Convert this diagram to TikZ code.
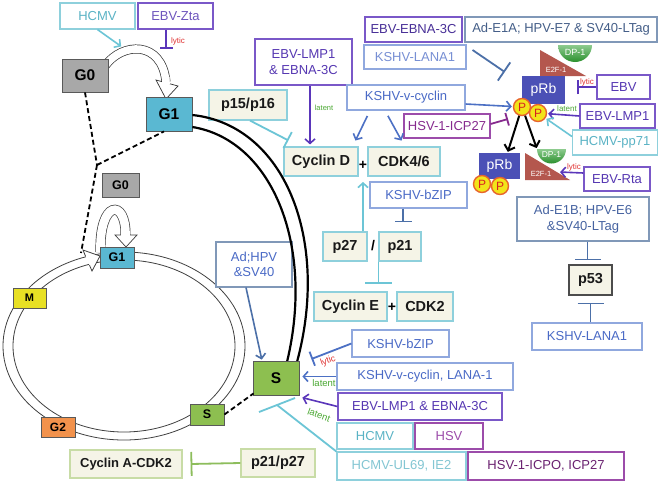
\documentclass[tikz,border=0pt]{standalone}
\usepackage{fontspec}
\setmainfont{Liberation Sans}
\usetikzlibrary{arrows.meta,calc}
\definecolor{cTealB}{HTML}{8ED0DC}
\definecolor{cTealT}{HTML}{5AB3C5}
\definecolor{cTealA}{HTML}{6CC5D6}
\definecolor{cPurB}{HTML}{7A58C8}
\definecolor{cPurT}{HTML}{5537B2}
\definecolor{cPurA}{HTML}{5A36BA}
\definecolor{cBluB}{HTML}{90A8DE}
\definecolor{cBluT}{HTML}{4A6AC6}
\definecolor{cBluA}{HTML}{4C70C4}
\definecolor{cSlaB}{HTML}{8098B8}
\definecolor{cSlaT}{HTML}{445E88}
\definecolor{cSlaA}{HTML}{4C70A8}
\definecolor{cMagB}{HTML}{9C4CAA}
\definecolor{cMagT}{HTML}{862A8E}
\definecolor{cMagA}{HTML}{862A8E}
\definecolor{cGrnB}{HTML}{C8DCA6}
\definecolor{cGrnA}{HTML}{8DBD5C}
\definecolor{cBeige}{HTML}{F5F4E7}
\definecolor{cLat}{HTML}{4AA832}
\definecolor{cLyt}{HTML}{E03434}
\definecolor{cGzero}{HTML}{A8A8A8}
\definecolor{cGone}{HTML}{5AB8D2}
\definecolor{cSph}{HTML}{8DBF50}
\definecolor{cMph}{HTML}{E8E024}
\definecolor{cGtwo}{HTML}{F2924C}
\definecolor{cPRb}{HTML}{4B50B6}
\definecolor{cEF}{HTML}{B4574E}
\definecolor{cDP}{HTML}{2FA032}
\definecolor{cPfill}{HTML}{F2E41A}
\definecolor{cPring}{HTML}{E8642C}
\definecolor{cPtxt}{HTML}{D82020}
\tikzset{
 wh/.style 2 args={minimum width=#1pt, minimum height=#2pt},
 vbox/.style={draw, fill=white, line width=1.1pt, inner sep=0pt, align=center, font=\fontsize{13}{15.5}\selectfont},
 vT/.style={vbox, draw=cTealB, text=cTealT},
 vP/.style={vbox, draw=cPurB, text=cPurT},
 vB/.style={vbox, draw=cBluB, text=cBluT},
 vS/.style={vbox, draw=cSlaB, text=cSlaT},
 vM/.style={vbox, draw=cMagB, text=cMagT},
 mol/.style={draw=cTealB, fill=cBeige, line width=1.1pt, inner sep=0pt, text=black!90, font=\bfseries\fontsize{14.5}{16}\selectfont},
 molG/.style={mol, draw=cGrnB},
 phase/.style={draw=black!65, line width=0.8pt, inner sep=0pt, font=\bfseries\fontsize{#1}{#1}\selectfont},
 prb/.style={fill=cPRb, text=white, inner sep=0pt, font=\fontsize{14}{14}\selectfont},
 pcirc/.style={circle, fill=cPfill, draw=cPring, line width=1.4pt, minimum size=17pt, inner sep=0pt, text=cPtxt, font=\fontsize{12}{12}\selectfont},
 plusn/.style={inner sep=0pt, font=\bfseries\fontsize{14}{14}\selectfont},
 arr/.style={line width=1.6pt, -{Straight Barb[length=4.5pt,width=10pt]}, shorten >=1pt},
 arrT/.style={arr, draw=cTealA},
 arrP/.style={arr, draw=cPurA},
 arrB/.style={arr, draw=cBluA},
 arrS/.style={arr, draw=cSlaA},
 blk/.style={line width=2pt, draw=black, -{Straight Barb[length=5pt,width=11pt]}, shorten >=1pt},
 inh/.style={line width=1.8pt, -{Bar[width=#1pt]}},
 inh/.default=14,
 lat/.style={text=cLat, inner sep=0pt, font=\fontsize{#1}{#1}\selectfont},
 lat/.default=8,
 lyt/.style={text=cLyt, inner sep=0pt, font=\fontsize{#1}{#1}\selectfont},
 lyt/.default=8,
 dsh/.style={line width=1.8pt, dash pattern=on 5pt off 3pt},
 ringl/.style={line width=0.8pt, draw=black!75},
 arcl/.style={line width=2.2pt, draw=black},
}
\begin{document}
\begin{tikzpicture}[x=1pt,y=-1pt]
\fill[white] (0,0) rectangle (660,482);
\useasboundingbox (0,0) rectangle (660,482);

% ---- small cell cycle ring ----
\draw[ringl] (124,346) ellipse [x radius=121pt, y radius=94pt];
\draw[ringl] (124,346) ellipse [x radius=111pt, y radius=86pt];
\fill[white] (83,250) -- (100,256) -- (92,271) -- cycle;
\draw[ringl, line join=miter] (85.6,256.4) -- (83,250) -- (100,256) -- (92,271) -- (89.5,265.2);

% ---- loop arrow on small G1 ----
\draw[line width=10pt, black!75] (100.5,252) .. controls (99,200) and (126,198) .. (125.5,235);
\draw[line width=8.6pt, white] (100.5,252) .. controls (99,200) and (126,198) .. (125.5,235);
\filldraw[fill=white, draw=black!75, line width=0.7pt] (115,235) -- (137,235) -- (126,247) -- cycle;
\draw[line width=8.6pt, white] (125.5,231) -- (125.5,237);

% ---- big hollow arrow G0 -> G1 ----
\draw[line width=9pt, black!80] (105,66) .. controls (122,42) and (162,40) .. (166,82);
\draw[line width=7.6pt, white] (105,66) .. controls (122,42) and (162,40) .. (166,82);
\filldraw[fill=white, draw=black!80, line width=0.7pt] (156,80) -- (178,86) -- (166,99) -- cycle;
\draw[line width=7.6pt, white] (165.7,77) -- (166,84);

% ---- nodes ----
\node[vT, wh={75}{26}] (hcmvT) at (97.5,16) {HCMV};
\node[vP, wh={75}{26}, text=cPurT!85!white] (ztaT) at (175.5,16) {EBV-Zta};
\node[phase=15.5, fill=cGzero, wh={46}{33}] (g0big) at (85,75.5) {G0};
\node[phase=15.5, fill=cGone, wh={46}{34}] (g1big) at (169,114) {G1};
\node[vP, wh={97}{46}] (lmp1T) at (303.5,62) {EBV-LMP1\\\& EBNA-3C};
\node[mol, wh={78}{30}] (p1516) at (248,105) {p15/p16};
\node[mol, wh={74}{29}] (cycD) at (321,161.5) {Cyclin D};
\node[plusn] (plus1) at (363,165) {+};
\node[mol, wh={72}{29}] (cdk46) at (404,161.5) {CDK4/6};
\node[vB, wh={118}{25}] (vcyc) at (406,97.5) {KSHV-v-cyclin};
\node[vP, wh={97}{25}, text=cPurT!85!black] (ebna3c) at (413.5,29.5) {EBV-EBNA-3C};
\node[vB, wh={102}{24}, text=cBluT!75!white] (lana1T) at (415,57) {KSHV-LANA1};
\node[vS, wh={192}{25}] (ade1a) at (561,29.5) {Ad-E1A; HPV-E7 \& SV40-LTag};

% pRb / E2F / DP-1 complex
\fill[cEF] (540,50) -- (540,76) -- (586,76) -- cycle;
\node[text=white, inner sep=0pt, font=\fontsize{7.5}{7.5}\selectfont] (e2fa) at (556,70) {E2F-1};
\shade[top color=cDP!55!white, bottom color=cDP!90!black] (558,45) -- (592,45) arc[start angle=0, end angle=-180, radius=17pt] -- cycle;
\node[text=white, inner sep=0pt, font=\fontsize{9}{9}\selectfont] (dpa) at (575,52) {DP-1};
\node[prb, wh={43}{28}] (prb1) at (543.5,90) {pRb};

\fill[cEF] (525,153) -- (525,180) -- (570,180) -- cycle;
\node[text=white, inner sep=0pt, font=\fontsize{7.5}{7.5}\selectfont] (e2fb) at (541,174) {E2F-1};
\shade[top color=cDP!55!white, bottom color=cDP!90!black] (537,149) -- (566,149) arc[start angle=0, end angle=-180, radius=14.5pt] -- cycle;
\node[text=white, inner sep=0pt, font=\fontsize{8.5}{8.5}\selectfont] (dpb) at (551.5,155) {DP-1};
\node[prb, wh={41}{26}] (prb2) at (499.5,166) {pRb};

\node[pcirc] (P1) at (522,107) {P};
\node[pcirc] (P2) at (538,113) {P};
\node[pcirc] (P3) at (482,184) {P};
\node[pcirc] (P4) at (500,186) {P};

\node[vP, wh={53}{24}] (ebv) at (623.5,87) {EBV};
\node[vP, wh={75}{24}] (ebvlmp1) at (617.5,116) {EBV-LMP1};
\node[vT, wh={85}{25}] (pp71) at (615,142.5) {HCMV-pp71};
\node[vM, wh={86}{24}] (icp27) at (447,126) {HSV-1-ICP27};
\node[vP, wh={66}{24}] (rta) at (617,179) {EBV-Rta};
\node[vS, wh={132}{44}, text=cSlaT!60!cBluT] (ade1b) at (583,219) {Ad-E1B; HPV-E6\\\&SV40-LTag};
\node[mol, draw=black!70, wh={43}{30}] (p53) at (590.5,280) {p53};
\node[vB, wh={110}{27}] (lana1B) at (587,336.5) {KSHV-LANA1};
\node[vB, wh={97}{26}] (bzipM) at (418.5,195) {KSHV-bZIP};
\node[mol, wh={44}{29}] (p27) at (345,246.5) {p27};
\node[plusn] (slash) at (373,246) {/};
\node[mol, wh={42}{29}] (p21) at (400,246.5) {p21};
\node[mol, wh={73}{29}] (cycE) at (350.5,306.5) {Cyclin E};
\node[plusn] (plus2) at (392,307) {+};
\node[mol, wh={56}{29}] (cdk2) at (425,306.5) {CDK2};
\node[vS, wh={76}{45}, text=cBluT] (adhpv) at (254,264.5) {Ad;HPV\\\&SV40};

% big double arc G1 -> S
\draw[arcl] ([yshift=-1pt]g1big.east) .. controls (285,125) and (330,240) .. (297,362);
\draw[arcl] ([yshift=-13pt]g1big.east) .. controls (272,140) and (315,245) .. (287,362);

\node[phase=15.5, fill=cSph, wh={46}{34}] (sbig) at (276,378) {S};
\node[vB, wh={97}{27}] (bzipB) at (400.5,343.5) {KSHV-bZIP};
\node[vB, wh={176}{27}] (vcycB) at (425,376.5) {KSHV-v-cyclin, LANA-1};
\node[vP, wh={164}{27}] (lmpB) at (420,406.5) {EBV-LMP1 \& EBNA-3C};
\node[vT, wh={76}{26}] (hcmvB) at (375,436) {HCMV};
\node[vM, wh={68}{26}, text=cMagB] (hsvB) at (449,436) {HSV};
\node[vT, wh={129}{28}, text=cTealT!75!white] (ul69) at (401.5,466) {HCMV-UL69, IE2};
\node[vM, wh={156}{28}, text=cMagT!80!black] (icpo) at (546,466) {HSV-1-ICPO, ICP27};
\node[molG, wh={112}{28}, font=\bfseries\fontsize{13}{13}\selectfont] (cycA) at (126,464) {Cyclin A-CDK2};
\node[molG, wh={74}{28}] (p2127) at (278,463) {p21/p27};
\node[phase=12.5, fill=cGzero, wh={37}{24}] (g0s) at (120.5,185) {G0};
\node[phase=12.5, fill=cGone, wh={34}{21}] (g1s) at (117,257.5) {G1};
\node[phase=11, fill=cMph, wh={33}{20}] (mph) at (29.5,298) {M};
\node[phase=12, fill=cGtwo, wh={34}{20}] (g2) at (58,427) {G2};
\node[phase=12.5, fill=cSph, wh={34}{21}] (ss) at (207,414.5) {S};

% ---- dashed links ----
\coordinate (junc) at (97,165);
\coordinate (ringjunc) at (81,253);
\draw[dsh] (g0big.south) -- (junc);
\draw[dsh] (junc) -- ([xshift=-5pt]g1big.south);
\draw[dsh] (junc) -- (ringjunc);
\draw[dsh] (ss.east) -- ([xshift=1pt,yshift=2pt]sbig.south west);

% ---- connectors ----
\coordinate (hcmvtip) at (122,47);
\draw[arrT] (hcmvT.south) -- (hcmvtip);
\coordinate (ztabar) at (166,49);
\draw[inh=13, draw=cPurA] (ztaT.south -| ztabar) -- (ztabar);
\node[lyt] (lyt1) at (178,41) {lytic};

\draw[arrP] ([xshift=6.5pt]lmp1T.south) -- ([xshift=-11pt,yshift=1pt]cycD.north);
\node[lat=7.5] (lat1) at (324,108) {latent};
\draw[inh=18, draw=cTealA] ([xshift=2pt]p1516.south) -- ([xshift=5pt,yshift=6pt]cycD.north west);

\draw[arrB, shorten <=6pt] ([xshift=-36pt]vcyc.south) -- ([xshift=34pt,yshift=5pt]cycD.north);
\draw[arrB, shorten <=6pt] ([xshift=-21pt]vcyc.south) -- ([xshift=-2pt,yshift=5pt]cdk46.north);
\draw[arrB] ([yshift=-6.5pt]vcyc.east) -- (P1);

\draw[inh=22, draw=cSlaA] ([xshift=6pt,yshift=7pt]lana1T.east) -- ([xshift=-17pt,yshift=18pt]prb1.west);

\coordinate (ebvbar) at (577,87);
\draw[inh=14, draw=cPurA] (ebv.west) -- (ebv.west -| ebvbar);
\node[lyt] (lyt2) at (587,82) {lytic};
\draw[arrP] (ebvlmp1.west) -- (P2);
\node[lat] (lat2) at (567,109) {latent};
\draw[arrT] ([yshift=6pt]pp71.west) -- (P2);
\coordinate (icpbar) at (508,119);
\draw[inh=13, draw=cMagA] ([yshift=2pt]icp27.east) -- (icpbar);

\coordinate (dptip) at (537,149);
\draw[blk] (P1) -- ([xshift=8pt]prb2.north);
\draw[blk] (P1) -- (dptip);

\coordinate (rtatip) at (559,172);
\draw[arrP] ([yshift=6pt]rta.west) -- (rtatip);
\node[lyt] (lyt3) at (574,167) {lytic};

\draw[inh=26, draw=cSlaA] ([xshift=-3pt]ade1b.south -| p53.north) -- ([xshift=-3pt,yshift=4pt]p53.north);
\draw[inh=26, draw=cSlaA] (lana1B.north -| p53.south) -- ([yshift=-7pt]p53.south);

\draw[inh=17, draw=cSlaA] ([xshift=-15.5pt]bzipM.south) -- ([xshift=3pt,yshift=9pt]p21.north);
\draw[arrT] ([xshift=18pt]p27.north) -- ([yshift=-16pt]plus1.center);
\draw[inh=27, draw=cTealA] (p21.south west) -- ++(0,22);

\draw[arrS] ([xshift=-8pt]adhpv.south) -- ([xshift=-14pt]sbig.north);
\draw[inh=15, draw=cBluA] (bzipB.west) -- ([xshift=12pt,yshift=19pt]sbig.east);
\node[lyt=9, rotate=20] (lyt4) at (328,361) {lytic};
\draw[arrB] (vcycB.west) -- ([xshift=2pt]sbig.east |- vcycB.west);
\node[lat=9.5] (lat3) at (324,383) {latent};
\draw[arrP] (lmpB.west) -- ([xshift=2pt,yshift=-2pt]sbig.south east);
\node[lat=9.5, rotate=-20] (lat4) at (319,415) {latent};

\coordinate (hbarone) at (259,412);
\coordinate (hbartwo) at (295,398);
\coordinate (hbarmid) at (277,405);
\draw[line width=1.8pt, draw=cTealA] ([yshift=-2pt]hcmvB.south west) -- (hbarmid);
\draw[line width=1.8pt, draw=cTealA] (hbarone) -- (hbartwo);

\draw[inh=24, draw=cGrnA] (p2127.west) -- ([xshift=8pt]cycA.east);
\end{tikzpicture}
\end{document}
